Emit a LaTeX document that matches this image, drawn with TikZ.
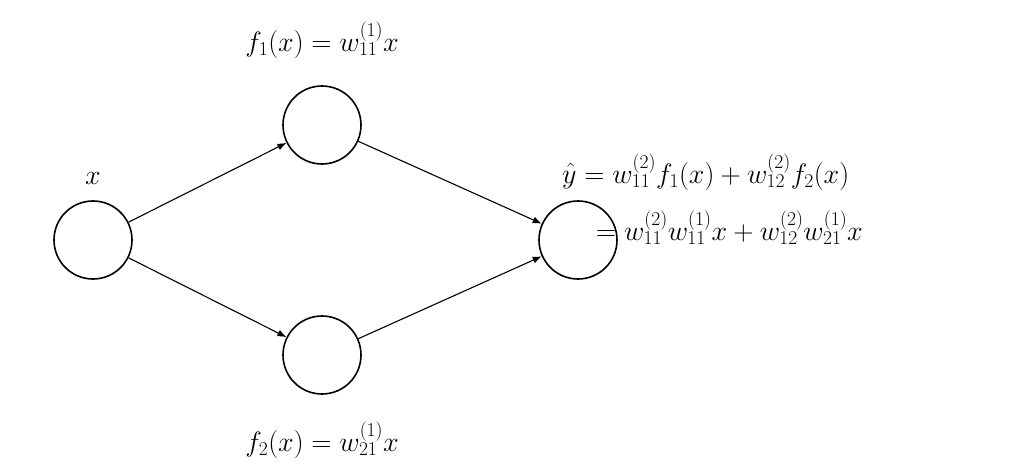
\RequirePackage{fix-cm}
\documentclass[tikz,border=0pt]{standalone}
\usetikzlibrary{arrows.meta}
\begin{document}
\begin{tikzpicture}[x=1pt,y=-1pt,
  neuron/.style={circle,draw,line width=1.6pt,minimum size=78pt,inner sep=0pt},
  conn/.style={line width=1.1pt,-{Latex[length=9pt,width=7pt]}},
  lbl/.style={inner sep=0pt,font=\fontsize{28}{32}\selectfont}]
\useasboundingbox (0,0) rectangle (1024,473);
\node[neuron] (x) at (93,240) {};
\node[neuron] (h1) at (322,125) {};
\node[neuron] (h2) at (322,355) {};
\node[neuron] (y) at (578,240) {};
\draw[conn] (x) -- (h1);
\draw[conn] (x) -- (h2);
\draw[conn] (h1) -- (y);
\draw[conn] (h2) -- (y);
\node[lbl] (lx) at (93,178) {$x$};
\node[lbl] (l1) at (322,40) {$f_1(x) = w_{11}^{(1)}x$};
\node[lbl] (l2) at (322,440) {$f_2(x) = w_{21}^{(1)}x$};
\node[lbl,anchor=base west] (ly1) at (562,183) {$\hat{y} = w_{11}^{(2)}f_1(x) + w_{12}^{(2)}f_2(x)$};
\node[lbl,anchor=base west] (ly2) at (596,240) {$= w_{11}^{(2)}w_{11}^{(1)}x + w_{12}^{(2)}w_{21}^{(1)}x$};
\end{tikzpicture}
\end{document}
